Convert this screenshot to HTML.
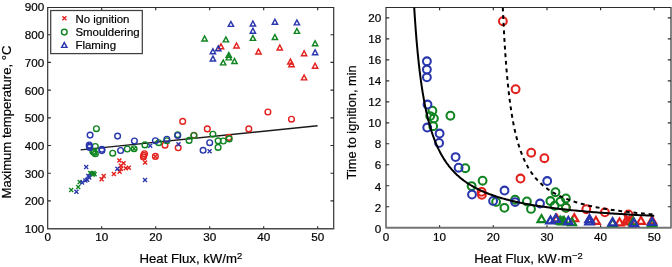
<!DOCTYPE html>
<html><head><meta charset="utf-8"><title>Figure</title>
<style>html,body{margin:0;padding:0;background:#fff}</style></head>
<body>
<svg width="672" height="267" viewBox="0 0 672 267" style="display:block;font-family:'Liberation Sans', Arial, Helvetica, sans-serif">
<rect width="672" height="267" fill="#fff"/>
<path d="M47.7 228.7V7.5H333.7V228.7M101.7 7.5v2.8M155.7 7.5v2.8M209.7 7.5v2.8M263.7 7.5v2.8M317.7 7.5v2.8M47.7 34.7h3.2M333.7 34.7h-3.2M47.7 62.4h3.2M333.7 62.4h-3.2M47.7 90.1h3.2M333.7 90.1h-3.2M47.7 117.8h3.2M333.7 117.8h-3.2M47.7 145.5h3.2M333.7 145.5h-3.2M47.7 173.2h3.2M333.7 173.2h-3.2M47.7 200.9h3.2M333.7 200.9h-3.2" fill="none" stroke="#2c2c2c" stroke-width="1.15"/><path d="M47.1 228.7H334.3" fill="none" stroke="#4a4a4a" stroke-width="1.45"/><path d="M101.7 228.17v-1.8M155.7 228.17v-1.8M209.7 228.17v-1.8M263.7 228.17v-1.8M317.7 228.17v-1.8" fill="none" stroke="#222" stroke-width="1.1"/>
<g font-size="11.7" fill="#000" stroke="#000" stroke-width="0.2">
<text x="47.7" y="241.0" text-anchor="middle">0</text>
<text x="101.7" y="241.0" text-anchor="middle">10</text>
<text x="155.7" y="241.0" text-anchor="middle">20</text>
<text x="209.7" y="241.0" text-anchor="middle">30</text>
<text x="263.7" y="241.0" text-anchor="middle">40</text>
<text x="317.7" y="241.0" text-anchor="middle">50</text>
<text x="44.2" y="11.4" text-anchor="end">900</text>
<text x="44.2" y="39.1" text-anchor="end">800</text>
<text x="44.2" y="66.8" text-anchor="end">700</text>
<text x="44.2" y="94.5" text-anchor="end">600</text>
<text x="44.2" y="122.2" text-anchor="end">500</text>
<text x="44.2" y="149.9" text-anchor="end">400</text>
<text x="44.2" y="177.6" text-anchor="end">300</text>
<text x="44.2" y="205.3" text-anchor="end">200</text>
<text x="44.2" y="233.0" text-anchor="end">100</text>
</g>
<text x="190.8" y="263.0" font-size="13.2" text-anchor="middle" fill="#000" stroke="#000" stroke-width="0.2">Heat Flux, kW/m<tspan font-size="9.4" dy="-4.3">2</tspan></text>
<text transform="translate(11.2 122) rotate(-90)" font-size="13.1" text-anchor="middle" fill="#000" stroke="#000" stroke-width="0.2">Maximum temperature, °C</text>
<path d="M80.6 149.9L317.6 125.75" stroke="#1a1a1a" stroke-width="1.3" fill="none"/>
<path d="M117.4 158.6L121.4 162.6M117.4 162.6L121.4 158.6" fill="none" stroke="#e3211c" stroke-width="1.35"/>
<path d="M121.6 161.2L125.6 165.2M121.6 165.2L125.6 161.2" fill="none" stroke="#e3211c" stroke-width="1.35"/>
<path d="M118.9 163.8L122.9 167.8M118.9 167.8L122.9 163.8" fill="none" stroke="#e3211c" stroke-width="1.35"/>
<path d="M123.8 166.2L127.8 170.2M123.8 170.2L127.8 166.2" fill="none" stroke="#e3211c" stroke-width="1.35"/>
<path d="M126.8 165.7L130.8 169.7M126.8 169.7L130.8 165.7" fill="none" stroke="#e3211c" stroke-width="1.35"/>
<path d="M117.6 169.8L121.6 173.8M117.6 173.8L121.6 169.8" fill="none" stroke="#e3211c" stroke-width="1.35"/>
<path d="M119.0 166.8L123.0 170.8M119.0 170.8L123.0 166.8" fill="none" stroke="#e3211c" stroke-width="1.35"/>
<path d="M111.9 172.0L115.9 176.0M111.9 176.0L115.9 172.0" fill="none" stroke="#e3211c" stroke-width="1.35"/>
<path d="M101.7 174.0L105.7 178.0M101.7 178.0L105.7 174.0" fill="none" stroke="#e3211c" stroke-width="1.35"/>
<path d="M99.6 177.3L103.6 181.3M99.6 181.3L103.6 177.3" fill="none" stroke="#e3211c" stroke-width="1.35"/>
<path d="M143.1 160.4L147.1 164.4M143.1 164.4L147.1 160.4" fill="none" stroke="#e3211c" stroke-width="1.35"/>
<path d="M153.4 154.4L157.4 158.4M153.4 158.4L157.4 154.4" fill="none" stroke="#e3211c" stroke-width="1.35"/>
<circle cx="182.7" cy="121.4" r="2.85" fill="none" stroke="#e3211c" stroke-width="1.4"/>
<circle cx="267.9" cy="112.0" r="2.85" fill="none" stroke="#e3211c" stroke-width="1.4"/>
<circle cx="291.5" cy="119.2" r="2.85" fill="none" stroke="#e3211c" stroke-width="1.4"/>
<circle cx="248.8" cy="128.9" r="2.85" fill="none" stroke="#e3211c" stroke-width="1.4"/>
<circle cx="207.3" cy="128.9" r="2.85" fill="none" stroke="#e3211c" stroke-width="1.4"/>
<circle cx="228.8" cy="137.4" r="2.85" fill="none" stroke="#e3211c" stroke-width="1.4"/>
<circle cx="193.9" cy="135.2" r="2.85" fill="none" stroke="#e3211c" stroke-width="1.4"/>
<circle cx="165.0" cy="145.2" r="2.85" fill="none" stroke="#e3211c" stroke-width="1.4"/>
<circle cx="178.2" cy="147.8" r="2.85" fill="none" stroke="#e3211c" stroke-width="1.4"/>
<circle cx="144.5" cy="153.7" r="2.85" fill="none" stroke="#e3211c" stroke-width="1.4"/>
<circle cx="143.7" cy="155.4" r="2.85" fill="none" stroke="#e3211c" stroke-width="1.4"/>
<circle cx="143.4" cy="157.0" r="2.85" fill="none" stroke="#e3211c" stroke-width="1.4"/>
<circle cx="155.4" cy="156.4" r="2.85" fill="none" stroke="#e3211c" stroke-width="1.4"/>
<path d="M221.00 42.30L217.15 49.50L224.85 49.50ZM221.00 45.38L222.43 48.05L219.57 48.05Z" fill="#e3211c" fill-rule="evenodd"/>
<path d="M236.50 41.50L232.65 48.70L240.35 48.70ZM236.50 44.58L237.93 47.25L235.07 47.25Z" fill="#e3211c" fill-rule="evenodd"/>
<path d="M258.50 47.60L254.65 54.80L262.35 54.80ZM258.50 50.68L259.93 53.35L257.07 53.35Z" fill="#e3211c" fill-rule="evenodd"/>
<path d="M279.80 43.50L275.95 50.70L283.65 50.70ZM279.80 46.58L281.23 49.25L278.37 49.25Z" fill="#e3211c" fill-rule="evenodd"/>
<path d="M304.10 49.20L300.25 56.40L307.95 56.40ZM304.10 52.28L305.53 54.95L302.67 54.95Z" fill="#e3211c" fill-rule="evenodd"/>
<path d="M290.40 57.50L286.55 64.70L294.25 64.70ZM290.40 60.58L291.83 63.25L288.97 63.25Z" fill="#e3211c" fill-rule="evenodd"/>
<path d="M291.50 60.20L287.65 67.40L295.35 67.40ZM291.50 63.28L292.93 65.95L290.07 65.95Z" fill="#e3211c" fill-rule="evenodd"/>
<path d="M315.10 61.70L311.25 68.90L318.95 68.90ZM315.10 64.78L316.53 67.45L313.67 67.45Z" fill="#e3211c" fill-rule="evenodd"/>
<path d="M304.10 73.40L300.25 80.60L307.95 80.60ZM304.10 76.48L305.53 79.15L302.67 79.15Z" fill="#e3211c" fill-rule="evenodd"/>
<path d="M88.2 170.9L92.2 174.9M88.2 174.9L92.2 170.9" fill="none" stroke="#0f8420" stroke-width="1.35"/>
<path d="M90.0 171.6L94.0 175.6M90.0 175.6L94.0 171.6" fill="none" stroke="#0f8420" stroke-width="1.35"/>
<path d="M91.6 170.9L95.6 174.9M91.6 174.9L95.6 170.9" fill="none" stroke="#0f8420" stroke-width="1.35"/>
<path d="M92.6 172.3L96.6 176.3M92.6 176.3L96.6 172.3" fill="none" stroke="#0f8420" stroke-width="1.35"/>
<path d="M90.8 172.6L94.8 176.6M90.8 176.6L94.8 172.6" fill="none" stroke="#0f8420" stroke-width="1.35"/>
<path d="M77.7 180.0L81.7 184.0M77.7 184.0L81.7 180.0" fill="none" stroke="#0f8420" stroke-width="1.35"/>
<path d="M76.2 184.9L80.2 188.9M76.2 188.9L80.2 184.9" fill="none" stroke="#0f8420" stroke-width="1.35"/>
<path d="M69.2 187.9L73.2 191.9M69.2 191.9L73.2 187.9" fill="none" stroke="#0f8420" stroke-width="1.35"/>
<path d="M132.1 146.7L136.1 150.7M132.1 150.7L136.1 146.7" fill="none" stroke="#0f8420" stroke-width="1.35"/>
<circle cx="96.4" cy="128.7" r="2.85" fill="none" stroke="#0f8420" stroke-width="1.4"/>
<circle cx="95.3" cy="146.5" r="2.85" fill="none" stroke="#0f8420" stroke-width="1.4"/>
<circle cx="92.9" cy="151.4" r="2.85" fill="none" stroke="#0f8420" stroke-width="1.4"/>
<circle cx="94.1" cy="152.6" r="2.85" fill="none" stroke="#0f8420" stroke-width="1.4"/>
<circle cx="95.4" cy="153.8" r="2.85" fill="none" stroke="#0f8420" stroke-width="1.4"/>
<circle cx="112.7" cy="153.2" r="2.85" fill="none" stroke="#0f8420" stroke-width="1.4"/>
<circle cx="127.3" cy="149.0" r="2.85" fill="none" stroke="#0f8420" stroke-width="1.4"/>
<circle cx="134.1" cy="148.7" r="2.85" fill="none" stroke="#0f8420" stroke-width="1.4"/>
<circle cx="144.9" cy="144.9" r="2.85" fill="none" stroke="#0f8420" stroke-width="1.4"/>
<circle cx="158.7" cy="142.7" r="2.85" fill="none" stroke="#0f8420" stroke-width="1.4"/>
<circle cx="166.9" cy="140.7" r="2.85" fill="none" stroke="#0f8420" stroke-width="1.4"/>
<circle cx="177.7" cy="134.7" r="2.85" fill="none" stroke="#0f8420" stroke-width="1.4"/>
<circle cx="189.1" cy="140.4" r="2.85" fill="none" stroke="#0f8420" stroke-width="1.4"/>
<circle cx="193.9" cy="135.5" r="2.85" fill="none" stroke="#0f8420" stroke-width="1.4"/>
<circle cx="212.9" cy="134.2" r="2.85" fill="none" stroke="#0f8420" stroke-width="1.4"/>
<circle cx="218.1" cy="140.8" r="2.85" fill="none" stroke="#0f8420" stroke-width="1.4"/>
<circle cx="223.3" cy="141.0" r="2.85" fill="none" stroke="#0f8420" stroke-width="1.4"/>
<circle cx="229.2" cy="138.9" r="2.85" fill="none" stroke="#0f8420" stroke-width="1.4"/>
<circle cx="218.1" cy="147.4" r="2.85" fill="none" stroke="#0f8420" stroke-width="1.4"/>
<path d="M204.60 34.50L200.75 41.70L208.45 41.70ZM204.60 37.58L206.03 40.25L203.17 40.25Z" fill="#0f8420" fill-rule="evenodd"/>
<path d="M225.90 35.40L222.05 42.60L229.75 42.60ZM225.90 38.48L227.33 41.15L224.47 41.15Z" fill="#0f8420" fill-rule="evenodd"/>
<path d="M252.90 33.90L249.05 41.10L256.75 41.10ZM252.90 36.98L254.33 39.65L251.47 39.65Z" fill="#0f8420" fill-rule="evenodd"/>
<path d="M274.90 33.00L271.05 40.20L278.75 40.20ZM274.90 36.08L276.33 38.75L273.47 38.75Z" fill="#0f8420" fill-rule="evenodd"/>
<path d="M296.90 26.90L293.05 34.10L300.75 34.10ZM296.90 29.98L298.33 32.65L295.47 32.65Z" fill="#0f8420" fill-rule="evenodd"/>
<path d="M315.10 39.20L311.25 46.40L318.95 46.40ZM315.10 42.28L316.53 44.95L313.67 44.95Z" fill="#0f8420" fill-rule="evenodd"/>
<path d="M228.80 50.90L224.95 58.10L232.65 58.10ZM228.80 53.98L230.23 56.65L227.37 56.65Z" fill="#0f8420" fill-rule="evenodd"/>
<path d="M228.80 53.40L224.95 60.60L232.65 60.60ZM228.80 56.48L230.23 59.15L227.37 59.15Z" fill="#0f8420" fill-rule="evenodd"/>
<path d="M223.20 58.40L219.35 65.60L227.05 65.60ZM223.20 61.48L224.63 64.15L221.77 64.15Z" fill="#0f8420" fill-rule="evenodd"/>
<path d="M234.50 57.00L230.65 64.20L238.35 64.20ZM234.50 60.08L235.93 62.75L233.07 62.75Z" fill="#0f8420" fill-rule="evenodd"/>
<path d="M84.2 164.9L88.2 168.9M84.2 168.9L88.2 164.9" fill="none" stroke="#2a36ad" stroke-width="1.35"/>
<path d="M115.4 166.7L119.4 170.7M115.4 170.7L119.4 166.7" fill="none" stroke="#2a36ad" stroke-width="1.35"/>
<path d="M143.0 178.0L147.0 182.0M143.0 182.0L147.0 178.0" fill="none" stroke="#2a36ad" stroke-width="1.35"/>
<path d="M86.4 174.0L90.4 178.0M86.4 178.0L90.4 174.0" fill="none" stroke="#2a36ad" stroke-width="1.35"/>
<path d="M87.2 175.5L91.2 179.5M87.2 179.5L91.2 175.5" fill="none" stroke="#2a36ad" stroke-width="1.35"/>
<path d="M85.2 177.7L89.2 181.7M85.2 181.7L89.2 177.7" fill="none" stroke="#2a36ad" stroke-width="1.35"/>
<path d="M83.4 178.4L87.4 182.4M83.4 182.4L87.4 178.4" fill="none" stroke="#2a36ad" stroke-width="1.35"/>
<path d="M80.1 180.4L84.1 184.4M80.1 184.4L84.1 180.4" fill="none" stroke="#2a36ad" stroke-width="1.35"/>
<path d="M74.4 189.7L78.4 193.7M74.4 193.7L78.4 189.7" fill="none" stroke="#2a36ad" stroke-width="1.35"/>
<path d="M148.2 143.7L152.2 147.7M148.2 147.7L152.2 143.7" fill="none" stroke="#2a36ad" stroke-width="1.35"/>
<path d="M176.5 142.2L180.5 146.2M176.5 146.2L180.5 142.2" fill="none" stroke="#2a36ad" stroke-width="1.35"/>
<path d="M207.6 149.2L211.6 153.2M207.6 153.2L211.6 149.2" fill="none" stroke="#2a36ad" stroke-width="1.35"/>
<circle cx="90.1" cy="135.1" r="2.85" fill="none" stroke="#2a36ad" stroke-width="1.4"/>
<circle cx="117.6" cy="136.1" r="2.85" fill="none" stroke="#2a36ad" stroke-width="1.4"/>
<circle cx="134.4" cy="141.0" r="2.85" fill="none" stroke="#2a36ad" stroke-width="1.4"/>
<circle cx="89.3" cy="145.0" r="2.85" fill="none" stroke="#2a36ad" stroke-width="1.4"/>
<circle cx="89.3" cy="146.2" r="2.85" fill="none" stroke="#2a36ad" stroke-width="1.4"/>
<circle cx="89.6" cy="147.4" r="2.85" fill="none" stroke="#2a36ad" stroke-width="1.4"/>
<circle cx="101.9" cy="149.3" r="2.85" fill="none" stroke="#2a36ad" stroke-width="1.4"/>
<circle cx="101.9" cy="150.6" r="2.85" fill="none" stroke="#2a36ad" stroke-width="1.4"/>
<circle cx="120.6" cy="150.5" r="2.85" fill="none" stroke="#2a36ad" stroke-width="1.4"/>
<circle cx="155.4" cy="140.7" r="2.85" fill="none" stroke="#2a36ad" stroke-width="1.4"/>
<circle cx="166.9" cy="139.2" r="2.85" fill="none" stroke="#2a36ad" stroke-width="1.4"/>
<circle cx="177.7" cy="135.5" r="2.85" fill="none" stroke="#2a36ad" stroke-width="1.4"/>
<circle cx="209.7" cy="142.7" r="2.85" fill="none" stroke="#2a36ad" stroke-width="1.4"/>
<circle cx="203.1" cy="150.3" r="2.85" fill="none" stroke="#2a36ad" stroke-width="1.4"/>
<path d="M230.90 19.90L227.05 27.10L234.75 27.10ZM230.90 22.98L232.33 25.65L229.47 25.65Z" fill="#2a36ad" fill-rule="evenodd"/>
<path d="M252.90 19.50L249.05 26.70L256.75 26.70ZM252.90 22.58L254.33 25.25L251.47 25.25Z" fill="#2a36ad" fill-rule="evenodd"/>
<path d="M252.90 26.70L249.05 33.90L256.75 33.90ZM252.90 29.78L254.33 32.45L251.47 32.45Z" fill="#2a36ad" fill-rule="evenodd"/>
<path d="M274.90 17.70L271.05 24.90L278.75 24.90ZM274.90 20.78L276.33 23.45L273.47 23.45Z" fill="#2a36ad" fill-rule="evenodd"/>
<path d="M296.90 18.40L293.05 25.60L300.75 25.60ZM296.90 21.48L298.33 24.15L295.47 24.15Z" fill="#2a36ad" fill-rule="evenodd"/>
<path d="M315.10 48.20L311.25 55.40L318.95 55.40ZM315.10 51.28L316.53 53.95L313.67 53.95Z" fill="#2a36ad" fill-rule="evenodd"/>
<path d="M218.30 44.30L214.45 51.50L222.15 51.50ZM218.30 47.38L219.73 50.05L216.87 50.05Z" fill="#2a36ad" fill-rule="evenodd"/>
<path d="M212.90 47.30L209.05 54.50L216.75 54.50ZM212.90 50.38L214.33 53.05L211.47 53.05Z" fill="#2a36ad" fill-rule="evenodd"/>
<path d="M212.90 54.60L209.05 61.80L216.75 61.80ZM212.90 57.68L214.33 60.35L211.47 60.35Z" fill="#2a36ad" fill-rule="evenodd"/>
<rect x="50.7" y="10.5" width="91.6" height="43.1" fill="#fff" stroke="#404040" stroke-width="1.25"/>
<path d="M62.4 16.3L66.4 20.3M62.4 20.3L66.4 16.3" fill="none" stroke="#e3211c" stroke-width="1.35"/>
<circle cx="64.3" cy="32.1" r="2.85" fill="none" stroke="#0f8420" stroke-width="1.4"/>
<path d="M64.30 40.90L60.45 48.10L68.15 48.10ZM64.30 43.98L65.73 46.65L62.87 46.65Z" fill="#2a36ad" fill-rule="evenodd"/>
<g font-size="11.45" fill="#000" stroke="#000" stroke-width="0.2">
<text x="75.4" y="22.5">No ignition</text>
<text x="75.4" y="36.0">Smouldering</text>
<text x="75.4" y="49.15">Flaming</text>
</g>
<path d="M386.0 227.7V7.5H671.0V227.7M439.6 7.5v2.8M493.3 7.5v2.8M547.0 7.5v2.8M600.6 7.5v2.8M654.2 7.5v2.8M386.0 206.7h3.2M671.0 206.7h-3.2M386.0 185.7h3.2M671.0 185.7h-3.2M386.0 164.7h3.2M671.0 164.7h-3.2M386.0 143.7h3.2M671.0 143.7h-3.2M386.0 122.8h3.2M671.0 122.8h-3.2M386.0 101.8h3.2M671.0 101.8h-3.2M386.0 80.8h3.2M671.0 80.8h-3.2M386.0 59.8h3.2M671.0 59.8h-3.2M386.0 38.8h3.2M671.0 38.8h-3.2M386.0 17.8h3.2M671.0 17.8h-3.2" fill="none" stroke="#2c2c2c" stroke-width="1.15"/><path d="M385.4 227.7H671.6" fill="none" stroke="#747474" stroke-width="1.9"/><path d="M439.6 226.95v-1.8M493.3 226.95v-1.8M547.0 226.95v-1.8M600.6 226.95v-1.8M654.2 226.95v-1.8" fill="none" stroke="#222" stroke-width="1.1"/>
<g font-size="11.7" fill="#000" stroke="#000" stroke-width="0.2">
<text x="386.0" y="241.0" text-anchor="middle">0</text>
<text x="439.6" y="241.0" text-anchor="middle">10</text>
<text x="493.3" y="241.0" text-anchor="middle">20</text>
<text x="547.0" y="241.0" text-anchor="middle">30</text>
<text x="600.6" y="241.0" text-anchor="middle">40</text>
<text x="654.2" y="241.0" text-anchor="middle">50</text>
<text x="381.2" y="232.7" text-anchor="end">0</text>
<text x="381.2" y="211.6" text-anchor="end">2</text>
<text x="381.2" y="190.5" text-anchor="end">4</text>
<text x="381.2" y="169.4" text-anchor="end">6</text>
<text x="381.2" y="148.3" text-anchor="end">8</text>
<text x="381.2" y="127.2" text-anchor="end">10</text>
<text x="381.2" y="106.1" text-anchor="end">12</text>
<text x="381.2" y="85.0" text-anchor="end">14</text>
<text x="381.2" y="63.9" text-anchor="end">16</text>
<text x="381.2" y="42.8" text-anchor="end">18</text>
<text x="381.2" y="21.6" text-anchor="end">20</text>
</g>
<text x="528.4" y="263.0" font-size="13.15" text-anchor="middle" fill="#000" stroke="#000" stroke-width="0.2">Heat Flux, kW·m<tspan font-size="9.4" dy="-4.3">−2</tspan></text>
<text transform="translate(356.0 122.4) rotate(-90)" font-size="12.8" text-anchor="middle" fill="#000" stroke="#000" stroke-width="0.2">Time to ignition, min</text>
<clipPath id="rc"><rect x="386" y="7.5" width="285" height="220"/></clipPath>
<circle cx="502.9" cy="21.2" r="3.9" fill="none" stroke="#e3211c" stroke-width="2.05"/>
<circle cx="515.6" cy="89.2" r="3.9" fill="none" stroke="#e3211c" stroke-width="2.05"/>
<circle cx="531.2" cy="152.7" r="3.9" fill="none" stroke="#e3211c" stroke-width="2.05"/>
<circle cx="544.4" cy="158.2" r="3.9" fill="none" stroke="#e3211c" stroke-width="2.05"/>
<circle cx="520.5" cy="178.5" r="3.9" fill="none" stroke="#e3211c" stroke-width="2.05"/>
<circle cx="481.6" cy="191.8" r="3.9" fill="none" stroke="#e3211c" stroke-width="2.05"/>
<circle cx="481.9" cy="194.8" r="3.9" fill="none" stroke="#e3211c" stroke-width="2.05"/>
<circle cx="586.3" cy="209.2" r="3.9" fill="none" stroke="#e3211c" stroke-width="2.05"/>
<circle cx="604.9" cy="212.3" r="3.9" fill="none" stroke="#e3211c" stroke-width="2.05"/>
<circle cx="628.5" cy="214.4" r="3.9" fill="none" stroke="#e3211c" stroke-width="2.05"/>
<circle cx="565.9" cy="207.7" r="3.9" fill="none" stroke="#e3211c" stroke-width="2.05"/>
<path d="M556.70 212.40L550.80 222.60L562.60 222.60ZM556.70 216.69L558.87 220.45L554.53 220.45Z" fill="#e3211c" fill-rule="evenodd"/>
<path d="M574.30 212.10L568.40 222.30L580.20 222.30ZM574.30 216.39L576.47 220.15L572.13 220.15Z" fill="#e3211c" fill-rule="evenodd"/>
<path d="M595.90 214.80L590.00 225.00L601.80 225.00ZM595.90 219.09L598.07 222.85L593.73 222.85Z" fill="#e3211c" fill-rule="evenodd"/>
<path d="M619.50 216.20L613.60 226.40L625.40 226.40ZM619.50 220.49L621.67 224.25L617.33 224.25Z" fill="#e3211c" fill-rule="evenodd"/>
<path d="M626.40 214.10L620.50 224.30L632.30 224.30ZM626.40 218.39L628.57 222.15L624.23 222.15Z" fill="#e3211c" fill-rule="evenodd"/>
<path d="M628.00 215.40L622.10 225.60L633.90 225.60ZM628.00 219.69L630.17 223.45L625.83 223.45Z" fill="#e3211c" fill-rule="evenodd"/>
<path d="M629.60 214.50L623.70 224.70L635.50 224.70ZM629.60 218.79L631.77 222.55L627.43 222.55Z" fill="#e3211c" fill-rule="evenodd"/>
<path d="M641.00 214.80L635.10 225.00L646.90 225.00ZM641.00 219.09L643.17 222.85L638.83 222.85Z" fill="#e3211c" fill-rule="evenodd"/>
<path d="M652.10 214.30L646.20 224.50L658.00 224.50ZM652.10 218.59L654.27 222.35L649.93 222.35Z" fill="#e3211c" fill-rule="evenodd"/>
<circle cx="432.4" cy="110.7" r="3.9" fill="none" stroke="#0f8420" stroke-width="2.05"/>
<circle cx="430.2" cy="116.1" r="3.9" fill="none" stroke="#0f8420" stroke-width="2.05"/>
<circle cx="433.9" cy="118.4" r="3.9" fill="none" stroke="#0f8420" stroke-width="2.05"/>
<circle cx="433.2" cy="126.2" r="3.9" fill="none" stroke="#0f8420" stroke-width="2.05"/>
<circle cx="450.4" cy="115.7" r="3.9" fill="none" stroke="#0f8420" stroke-width="2.05"/>
<circle cx="465.3" cy="168.2" r="3.9" fill="none" stroke="#0f8420" stroke-width="2.05"/>
<circle cx="471.6" cy="186.1" r="3.9" fill="none" stroke="#0f8420" stroke-width="2.05"/>
<circle cx="482.6" cy="180.7" r="3.9" fill="none" stroke="#0f8420" stroke-width="2.05"/>
<circle cx="496.1" cy="201.9" r="3.9" fill="none" stroke="#0f8420" stroke-width="2.05"/>
<circle cx="504.4" cy="207.8" r="3.9" fill="none" stroke="#0f8420" stroke-width="2.05"/>
<circle cx="515.1" cy="199.7" r="3.9" fill="none" stroke="#0f8420" stroke-width="2.05"/>
<circle cx="526.9" cy="201.4" r="3.9" fill="none" stroke="#0f8420" stroke-width="2.05"/>
<circle cx="531.0" cy="208.9" r="3.9" fill="none" stroke="#0f8420" stroke-width="2.05"/>
<circle cx="550.4" cy="201.0" r="3.9" fill="none" stroke="#0f8420" stroke-width="2.05"/>
<circle cx="555.5" cy="192.2" r="3.9" fill="none" stroke="#0f8420" stroke-width="2.05"/>
<circle cx="554.6" cy="205.7" r="3.9" fill="none" stroke="#0f8420" stroke-width="2.05"/>
<circle cx="560.4" cy="201.5" r="3.9" fill="none" stroke="#0f8420" stroke-width="2.05"/>
<circle cx="565.9" cy="198.4" r="3.9" fill="none" stroke="#0f8420" stroke-width="2.05"/>
<circle cx="565.9" cy="207.7" r="3.9" fill="none" stroke="#0f8420" stroke-width="2.05"/>
<path d="M541.50 212.95L535.60 223.25L547.40 223.25ZM541.50 217.28L543.69 221.10L539.31 221.10Z" fill="#0f8420" fill-rule="evenodd"/>
<path d="M560.20 214.45L554.30 224.75L566.10 224.75ZM560.20 218.78L562.39 222.60L558.01 222.60Z" fill="#0f8420" fill-rule="evenodd"/>
<path d="M562.20 215.25L556.30 225.55L568.10 225.55ZM562.20 219.58L564.39 223.40L560.01 223.40Z" fill="#0f8420" fill-rule="evenodd"/>
<path d="M564.00 214.65L558.10 224.95L569.90 224.95ZM564.00 218.98L566.19 222.80L561.81 222.80Z" fill="#0f8420" fill-rule="evenodd"/>
<path d="M572.00 215.95L566.10 226.25L577.90 226.25ZM572.00 220.28L574.19 224.10L569.81 224.10Z" fill="#0f8420" fill-rule="evenodd"/>
<path d="M612.60 216.85L606.70 227.15L618.50 227.15ZM612.60 221.18L614.79 225.00L610.41 225.00Z" fill="#0f8420" fill-rule="evenodd"/>
<path d="M633.30 215.45L627.40 225.75L639.20 225.75ZM633.30 219.78L635.49 223.60L631.11 223.60Z" fill="#0f8420" fill-rule="evenodd"/>
<path d="M652.10 216.85L646.20 227.15L658.00 227.15ZM652.10 221.18L654.29 225.00L649.91 225.00Z" fill="#0f8420" fill-rule="evenodd"/>
<circle cx="426.9" cy="61.3" r="3.9" fill="none" stroke="#2a36ad" stroke-width="2.05"/>
<circle cx="426.9" cy="69.5" r="3.9" fill="none" stroke="#2a36ad" stroke-width="2.05"/>
<circle cx="426.9" cy="77.3" r="3.9" fill="none" stroke="#2a36ad" stroke-width="2.05"/>
<circle cx="427.5" cy="104.5" r="3.9" fill="none" stroke="#2a36ad" stroke-width="2.05"/>
<circle cx="427.2" cy="127.5" r="3.9" fill="none" stroke="#2a36ad" stroke-width="2.05"/>
<circle cx="439.6" cy="133.5" r="3.9" fill="none" stroke="#2a36ad" stroke-width="2.05"/>
<circle cx="439.1" cy="142.9" r="3.9" fill="none" stroke="#2a36ad" stroke-width="2.05"/>
<circle cx="455.6" cy="157.1" r="3.9" fill="none" stroke="#2a36ad" stroke-width="2.05"/>
<circle cx="458.6" cy="167.7" r="3.9" fill="none" stroke="#2a36ad" stroke-width="2.05"/>
<circle cx="472.0" cy="194.5" r="3.9" fill="none" stroke="#2a36ad" stroke-width="2.05"/>
<circle cx="493.1" cy="200.9" r="3.9" fill="none" stroke="#2a36ad" stroke-width="2.05"/>
<circle cx="504.5" cy="190.5" r="3.9" fill="none" stroke="#2a36ad" stroke-width="2.05"/>
<circle cx="515.1" cy="202.1" r="3.9" fill="none" stroke="#2a36ad" stroke-width="2.05"/>
<circle cx="540.0" cy="203.5" r="3.9" fill="none" stroke="#2a36ad" stroke-width="2.05"/>
<circle cx="547.2" cy="181.0" r="3.9" fill="none" stroke="#2a36ad" stroke-width="2.05"/>
<path d="M550.50 214.20L544.35 224.60L556.65 224.60ZM550.50 218.72L552.62 222.30L548.38 222.30Z" fill="#2a36ad" fill-rule="evenodd"/>
<path d="M555.70 212.50L549.55 222.90L561.85 222.90ZM555.70 217.02L557.82 220.60L553.58 220.60Z" fill="#2a36ad" fill-rule="evenodd"/>
<path d="M568.30 214.80L562.15 225.20L574.45 225.20ZM568.30 219.32L570.42 222.90L566.18 222.90Z" fill="#2a36ad" fill-rule="evenodd"/>
<path d="M589.50 212.80L583.35 223.20L595.65 223.20ZM589.50 217.32L591.62 220.90L587.38 220.90Z" fill="#2a36ad" fill-rule="evenodd"/>
<path d="M589.50 215.10L583.35 225.50L595.65 225.50ZM589.50 219.62L591.62 223.20L587.38 223.20Z" fill="#2a36ad" fill-rule="evenodd"/>
<path d="M612.60 216.10L606.45 226.50L618.75 226.50ZM612.60 220.62L614.72 224.20L610.48 224.20Z" fill="#2a36ad" fill-rule="evenodd"/>
<path d="M634.00 216.80L627.85 227.20L640.15 227.20ZM634.00 221.32L636.12 224.90L631.88 224.90Z" fill="#2a36ad" fill-rule="evenodd"/>
<path d="M652.10 215.70L645.95 226.10L658.25 226.10ZM652.10 220.22L654.22 223.80L649.98 223.80Z" fill="#2a36ad" fill-rule="evenodd"/>
<path clip-path="url(#rc)" d="M413.90 2.29L413.90 2.39L413.92 2.70L413.95 3.21L413.99 3.93L414.05 4.84L414.11 5.94L414.19 7.23L414.28 8.69L414.38 10.33L414.50 12.14L414.63 14.10L414.76 16.20L414.91 18.44L415.08 20.81L415.25 23.30L415.44 25.89L415.63 28.57L415.84 31.35L416.07 34.19L416.30 37.11L416.55 40.08L416.81 43.09L417.08 46.15L417.36 49.23L417.65 52.34L417.96 55.46L418.28 58.58L418.61 61.71L418.95 64.83L419.31 67.94L419.67 71.03L420.05 74.10L420.44 77.14L420.84 80.16L421.26 83.14L421.69 86.08L422.12 88.98L422.57 91.84L423.04 94.66L423.51 97.43L424.00 100.15L424.50 102.83L425.01 105.45L425.53 108.03L426.07 110.55L426.61 113.03L427.17 115.45L427.74 117.82L428.33 120.14L428.92 122.40L429.53 124.62L430.15 126.79L430.78 128.90L431.42 130.97L432.07 132.99L432.74 134.96L433.42 136.88L434.11 138.76L434.81 140.59L435.53 142.38L436.26 144.12L437.00 145.82L437.75 147.48L438.51 149.10L439.29 150.67L440.07 152.21L440.87 153.71L441.68 155.17L442.51 156.60L443.34 157.99L444.19 159.35L445.05 160.67L445.92 161.96L446.80 163.22L447.70 164.44L448.60 165.64L449.52 166.80L450.46 167.94L451.40 169.05L452.35 170.13L453.32 171.19L454.30 172.22L455.29 173.22L456.30 174.20L457.31 175.16L458.34 176.09L459.38 177.01L460.43 177.90L461.49 178.76L462.57 179.61L463.66 180.44L464.76 181.25L465.87 182.04L466.99 182.81L468.13 183.56L469.28 184.30L470.43 185.02L471.61 185.72L472.79 186.41L473.99 187.08L475.19 187.73L476.41 188.37L477.65 189.00L478.89 189.61L480.15 190.21L481.41 190.80L482.69 191.37L483.98 191.93L485.29 192.48L486.60 193.02L487.93 193.54L489.27 194.06L490.62 194.56L491.99 195.05L493.36 195.54L494.75 196.01L496.15 196.47L497.56 196.92L498.99 197.37L500.42 197.80L501.87 198.23L503.33 198.64L504.81 199.05L506.29 199.45L507.79 199.84L509.29 200.23L510.81 200.60L512.35 200.97L513.89 201.34L515.45 201.69L517.02 202.04L518.60 202.38L520.19 202.71L521.79 203.04L523.41 203.37L525.04 203.68L526.68 203.99L528.33 204.30L529.99 204.60L531.67 204.89L533.36 205.18L535.06 205.46L536.77 205.74L538.50 206.01L540.23 206.28L541.98 206.54L543.74 206.80L545.51 207.05L547.30 207.30L549.10 207.54L550.90 207.79L552.73 208.02L554.56 208.25L556.40 208.48L558.26 208.71L560.13 208.93L562.01 209.14L563.90 209.36L565.81 209.57L567.72 209.77L569.65 209.97L571.59 210.17L573.55 210.37L575.51 210.56L577.49 210.75L579.48 210.94L581.48 211.12L583.49 211.30L585.52 211.48L587.55 211.65L589.60 211.82L591.66 211.99L593.74 212.16L595.82 212.32L597.92 212.49L600.03 212.65L602.15 212.80L604.28 212.96L606.43 213.11L608.58 213.26L610.75 213.40L612.93 213.55L615.13 213.69L617.33 213.83L619.55 213.97L621.78 214.11L624.02 214.24L626.27 214.37L628.54 214.50L630.82 214.63L633.11 214.76L635.41 214.88L637.72 215.01L640.05 215.13L642.38 215.25L644.73 215.37L647.09 215.48L649.47 215.60L651.85 215.71L654.25 215.82" fill="none" stroke="#000" stroke-width="2.0"/>
<path clip-path="url(#rc)" d="M502.81 7.53L502.81 7.62L502.82 7.88L502.84 8.32L502.87 8.92L502.90 9.70L502.94 10.64L502.99 11.74L503.05 13.00L503.11 14.41L503.19 15.96L503.26 17.64L503.35 19.46L503.45 21.40L503.55 23.46L503.66 25.62L503.78 27.88L503.90 30.24L504.03 32.67L504.17 35.18L504.32 37.76L504.48 40.39L504.64 43.08L504.81 45.81L504.99 48.58L505.17 51.37L505.37 54.19L505.57 57.02L505.78 59.87L505.99 62.72L506.21 65.57L506.45 68.42L506.68 71.25L506.93 74.07L507.18 76.88L507.44 79.66L507.71 82.41L507.99 85.14L508.27 87.84L508.57 90.51L508.86 93.14L509.17 95.74L509.49 98.30L509.81 100.82L510.14 103.29L510.47 105.73L510.82 108.13L511.17 110.48L511.53 112.79L511.90 115.05L512.27 117.27L512.65 119.45L513.04 121.59L513.44 123.68L513.85 125.72L514.26 127.73L514.68 129.69L515.11 131.61L515.54 133.48L515.99 135.32L516.44 137.12L516.89 138.87L517.36 140.59L517.83 142.26L518.31 143.90L518.80 145.50L519.30 147.07L519.80 148.59L520.31 150.09L520.83 151.55L521.36 152.97L521.89 154.36L522.43 155.72L522.98 157.05L523.54 158.35L524.10 159.61L524.68 160.85L525.25 162.06L525.84 163.24L526.44 164.39L527.04 165.52L527.65 166.62L528.26 167.69L528.89 168.74L529.52 169.77L530.16 170.77L530.81 171.75L531.46 172.70L532.13 173.64L532.80 174.55L533.47 175.45L534.16 176.32L534.85 177.17L535.55 178.01L536.26 178.82L536.98 179.62L537.70 180.40L538.43 181.16L539.17 181.91L539.91 182.64L540.67 183.35L541.43 184.05L542.20 184.73L542.97 185.40L543.76 186.05L544.55 186.69L545.35 187.32L546.15 187.93L546.97 188.53L547.79 189.12L548.62 189.70L549.46 190.26L550.30 190.81L551.15 191.35L552.01 191.88L552.88 192.40L553.75 192.91L554.63 193.41L555.52 193.89L556.42 194.37L557.33 194.84L558.24 195.30L559.16 195.75L560.09 196.19L561.02 196.62L561.96 197.04L562.91 197.46L563.87 197.87L564.84 198.27L565.81 198.66L566.79 199.05L567.78 199.42L568.78 199.79L569.78 200.16L570.79 200.51L571.81 200.86L572.83 201.21L573.87 201.54L574.91 201.88L575.96 202.20L577.01 202.52L578.08 202.83L579.15 203.14L580.23 203.44L581.31 203.74L582.41 204.03L583.51 204.32L584.62 204.60L585.74 204.88L586.86 205.15L587.99 205.42L589.13 205.68L590.28 205.94L591.44 206.19L592.60 206.44L593.77 206.69L594.94 206.93L596.13 207.16L597.32 207.40L598.52 207.63L599.73 207.85L600.95 208.07L602.17 208.29L603.40 208.51L604.64 208.72L605.88 208.93L607.14 209.13L608.40 209.33L609.67 209.53L610.94 209.72L612.22 209.92L613.52 210.10L614.81 210.29L616.12 210.47L617.43 210.65L618.76 210.83L620.08 211.01L621.42 211.18L622.76 211.35L624.12 211.51L625.48 211.68L626.84 211.84L628.22 212.00L629.60 212.16L630.99 212.31L632.39 212.46L633.79 212.61L635.20 212.76L636.62 212.91L638.05 213.05L639.48 213.19L640.93 213.33L642.38 213.47L643.83 213.61L645.30 213.74L646.77 213.87L648.25 214.00L649.74 214.13L651.24 214.26L652.74 214.38L654.25 214.51" fill="none" stroke="#000" stroke-width="2.0" stroke-dasharray="3.85 3.78"/>
</svg>
</body></html>
